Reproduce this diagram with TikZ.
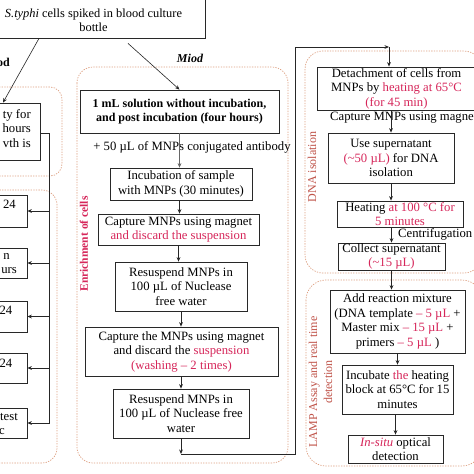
\documentclass[tikz,border=0pt]{standalone}
\usepackage{fontspec}
\setmainfont{Liberation Serif}
\usetikzlibrary{arrows.meta,calc}
\definecolor{redtxt}{RGB}{214,38,90}
\definecolor{sidetxt}{RGB}{192,84,74}
\definecolor{dotc}{RGB}{222,160,130}
\definecolor{boxc}{RGB}{40,40,40}
\newcommand{\rd}[1]{\textcolor{redtxt}{#1}}
\newcommand{\myfs}{\fontsize{12.7}{14.5}\selectfont}
\begin{document}
\begin{tikzpicture}[x=1pt,y=-1pt,
  box/.style={draw=boxc, line width=0.8pt, rectangle, inner sep=0pt, align=center, font=\myfs},
  frag/.style={inner sep=0pt, align=right, font=\myfs},
  plain/.style={inner sep=0pt, font=\myfs},
  region/.style={draw=dotc, line width=0.7pt, dash pattern=on 1.3pt off 1.3pt},
  arr/.style={-{Stealth[length=4.5pt,width=3.8pt]}, line width=0.7pt, draw=black!85},
  side/.style={rotate=90, inner sep=0pt, align=center}]
\useasboundingbox (0,0) rectangle (474,474);
\fill[white] (0,0) rectangle (474,474);

% dotted regions
\draw[region, rounded corners=12pt] (-20,87) rectangle (62,176);
\draw[region, rounded corners=15pt] (-20,190) rectangle (57,463);
\draw[region, rounded corners=16pt] (77,67) rectangle (288,463);
\draw[region, rounded corners=18pt] (305,51) rectangle (482,273);
\draw[region, rounded corners=20pt] (306,280) rectangle (482,466);

% top box
\node[box, minimum width=226pt, minimum height=44pt] (top) at (92,16) {};
\node[plain, align=center, font=\fontsize{12.4}{14.5}\selectfont] (toptext) at (93.5,20.5) {\textit{S.typhi} cells spiked in blood culture\\bottle};

% labels
\node[plain, anchor=east, font=\bfseries\fontsize{12}{14}\selectfont] (odlab) at (10,62) {od};
\node[plain, font=\bfseries\itshape\fontsize{12}{14}\selectfont] (miod) at (190,58) {Miod};

% left column boxes (cut by the page edge)
\node[box, minimum width=60pt, minimum height=57pt] (L1) at (10,131.5) {};
\node[frag, anchor=east] (L1t) at (31,128.5) {ty for\\hours\\vth is};
\node[box, minimum width=47pt, minimum height=32pt] (L2) at (3.5,211) {};
\node[frag, anchor=east] (L2t) at (16,204) {24};
\node[box, minimum width=47pt, minimum height=30pt] (L3) at (3.5,263) {};
\node[frag, anchor=east] (L3a) at (10,257) {n};
\node[frag, anchor=east] (L3b) at (17,271) {urs};
\node[box, minimum width=47pt, minimum height=31pt] (L4) at (3.5,316.5) {};
\node[frag, anchor=east] (L4t) at (12.5,310) {24};
\node[box, minimum width=47pt, minimum height=30pt] (L5) at (3.5,368) {};
\node[frag, anchor=east] (L5t) at (12.5,363) {24};
\node[box, minimum width=47pt, minimum height=30pt] (L6) at (3.5,423) {};
\node[frag, anchor=east] (L6a) at (18,417) {test};
\node[frag, anchor=east] (L6b) at (5,432) {c};

\coordinate (vtop) at (49,133);
\draw[arr] (L1.east |- vtop) -- (vtop) |- (L6.east);
\draw[arr] (vtop |- L2.east) -- (L2.east);
\draw[arr] (vtop |- L3.east) -- (L3.east);
\draw[arr] (vtop |- L4.east) -- (L4.east);
\draw[arr] (vtop |- L5.east) -- (L5.east);

% middle column
\node[box, minimum width=199pt, minimum height=43pt, font=\bfseries\fontsize{12}{14.5}\selectfont] (M1) at (179.5,111.5)
  {1 mL solution without incubation,\\and post incubation (four hours)};
\node[plain] (plus) at (192,147) {+ 50 µL of MNPs conjugated antibody};
\node[box, minimum width=142pt, minimum height=32pt] (M2) at (181,184)
  {Incubation of sample\\with MNPs (30 minutes)};
\node[box, minimum width=161pt, minimum height=31pt] (M3) at (178.5,229.5)
  {Capture MNPs using magnet\\\rd{and discard the suspension}};
\node[box, minimum width=132pt, minimum height=49pt] (M4) at (181,286.5)
  {Resuspend MNPs in\\100 µL of Nuclease\\free water};
\node[box, minimum width=193pt, minimum height=49pt] (M5) at (181.5,351.5)
  {Capture the MNPs using magnet\\and discard the \rd{suspension}\\\rd{(washing -- 2 times)}};
\node[box, minimum width=136pt, minimum height=49pt] (M6) at (181,413.5)
  {Resuspend MNPs in\\100 µL of Nuclease free\\water};

\node[side, text=redtxt, font=\bfseries\fontsize{11.5}{13}\selectfont] (enr) at (84,244) {Enrichment of cells};

\draw[arr, line width=0.5pt, draw=black!60] (M1.south) -- (M1.south |- M2.north);
\draw[arr] (M2.south -| M1.south) -- (M1.south |- M3.north);
\draw[arr] (M3.south) -- (M3.south |- M4.north);
\draw[arr] (M4.south) -- (M4.south |- M5.north);
\draw[arr] (M5.south -| M6.north) -- (M6.north);

% top arrows
\draw[arr, line width=0.6pt] ([xshift=-53pt]top.south) -- ([xshift=-7pt]L1.north);
\draw[arr, line width=0.6pt] ([xshift=36pt,yshift=-5pt]top.south) -- (M1.north);

% loop to right column
\coordinate (lp1) at (181,454);
\coordinate (lp2) at (295,454);
\coordinate (lp3) at (295,47);
\coordinate (lp4) at (389,47);
\draw[arr] (M6.south) -- (M6.south |- lp1);
\draw[arr] (M6.south |- lp1) -- (lp2) -- (lp3) -- (lp4);

% right column
\node[box, minimum width=159pt, minimum height=43pt] (R1) at (396.5,88.5)
  {Detachment of cells from\\MNPs by \rd{heating at 65°C}\\\rd{(for 45 min)}};
\draw[arr] (lp4) -- (lp4 |- R1.north);
\node[plain, anchor=west] (capt) at (330,118) {Capture MNPs using magnet};
\node[box, minimum width=126pt, minimum height=50pt] (R2) at (391,158)
  {Use supernatant\\\rd{(\textasciitilde50 µL)} for DNA\\isolation};
\node[box, minimum width=126pt, minimum height=26pt] (R3) at (400,214)
  {Heating \rd{at 100 °C for}\\\rd{5 minutes}};
\node[plain, anchor=west] (centr) at (398,234) {Centrifugation};
\node[box, minimum width=107pt, minimum height=27pt] (R4) at (391.5,256.5)
  {Collect supernatant\\\rd{(\textasciitilde15 µL)}};
\node[box, minimum width=135pt, minimum height=63pt] (R5) at (397.5,321.5)
  {Add reaction mixture\\(DNA template \rd{-- 5 µL} +\\Master mix \rd{-- 15 µL} +\\primers \rd{-- 5 µL} )};
\node[box, minimum width=111pt, minimum height=49pt] (R6) at (397.5,389.5)
  {Incubate \rd{the} heating\\block at 65°C for 15\\minutes};
\node[box, minimum width=95pt, minimum height=28pt] (R7) at (395.5,449)
  {\rd{\textit{In-situ}} optical\\detection};

\node[side, text=sidetxt, font=\fontsize{12}{14}\selectfont] (dna) at (312,167) {DNA isolation};
\node[side, text=sidetxt, font=\fontsize{12}{15}\selectfont] (lamp) at (320.5,382) {LAMP Assay and real time\\detection};

\draw[arr] (R1.south -| R2.north) -- (R2.north);
\draw[arr] (R2.south) -- (R2.south |- R3.north);
\draw[arr] (R3.south -| R4.north) -- (R4.north);
\draw[arr] (R4.south) -- (R4.south |- R5.north);
\draw[arr] (R5.south) -- (R5.south |- R6.north);
\draw[arr] (R6.south -| R7.north) -- (R7.north);
\end{tikzpicture}
\end{document}
